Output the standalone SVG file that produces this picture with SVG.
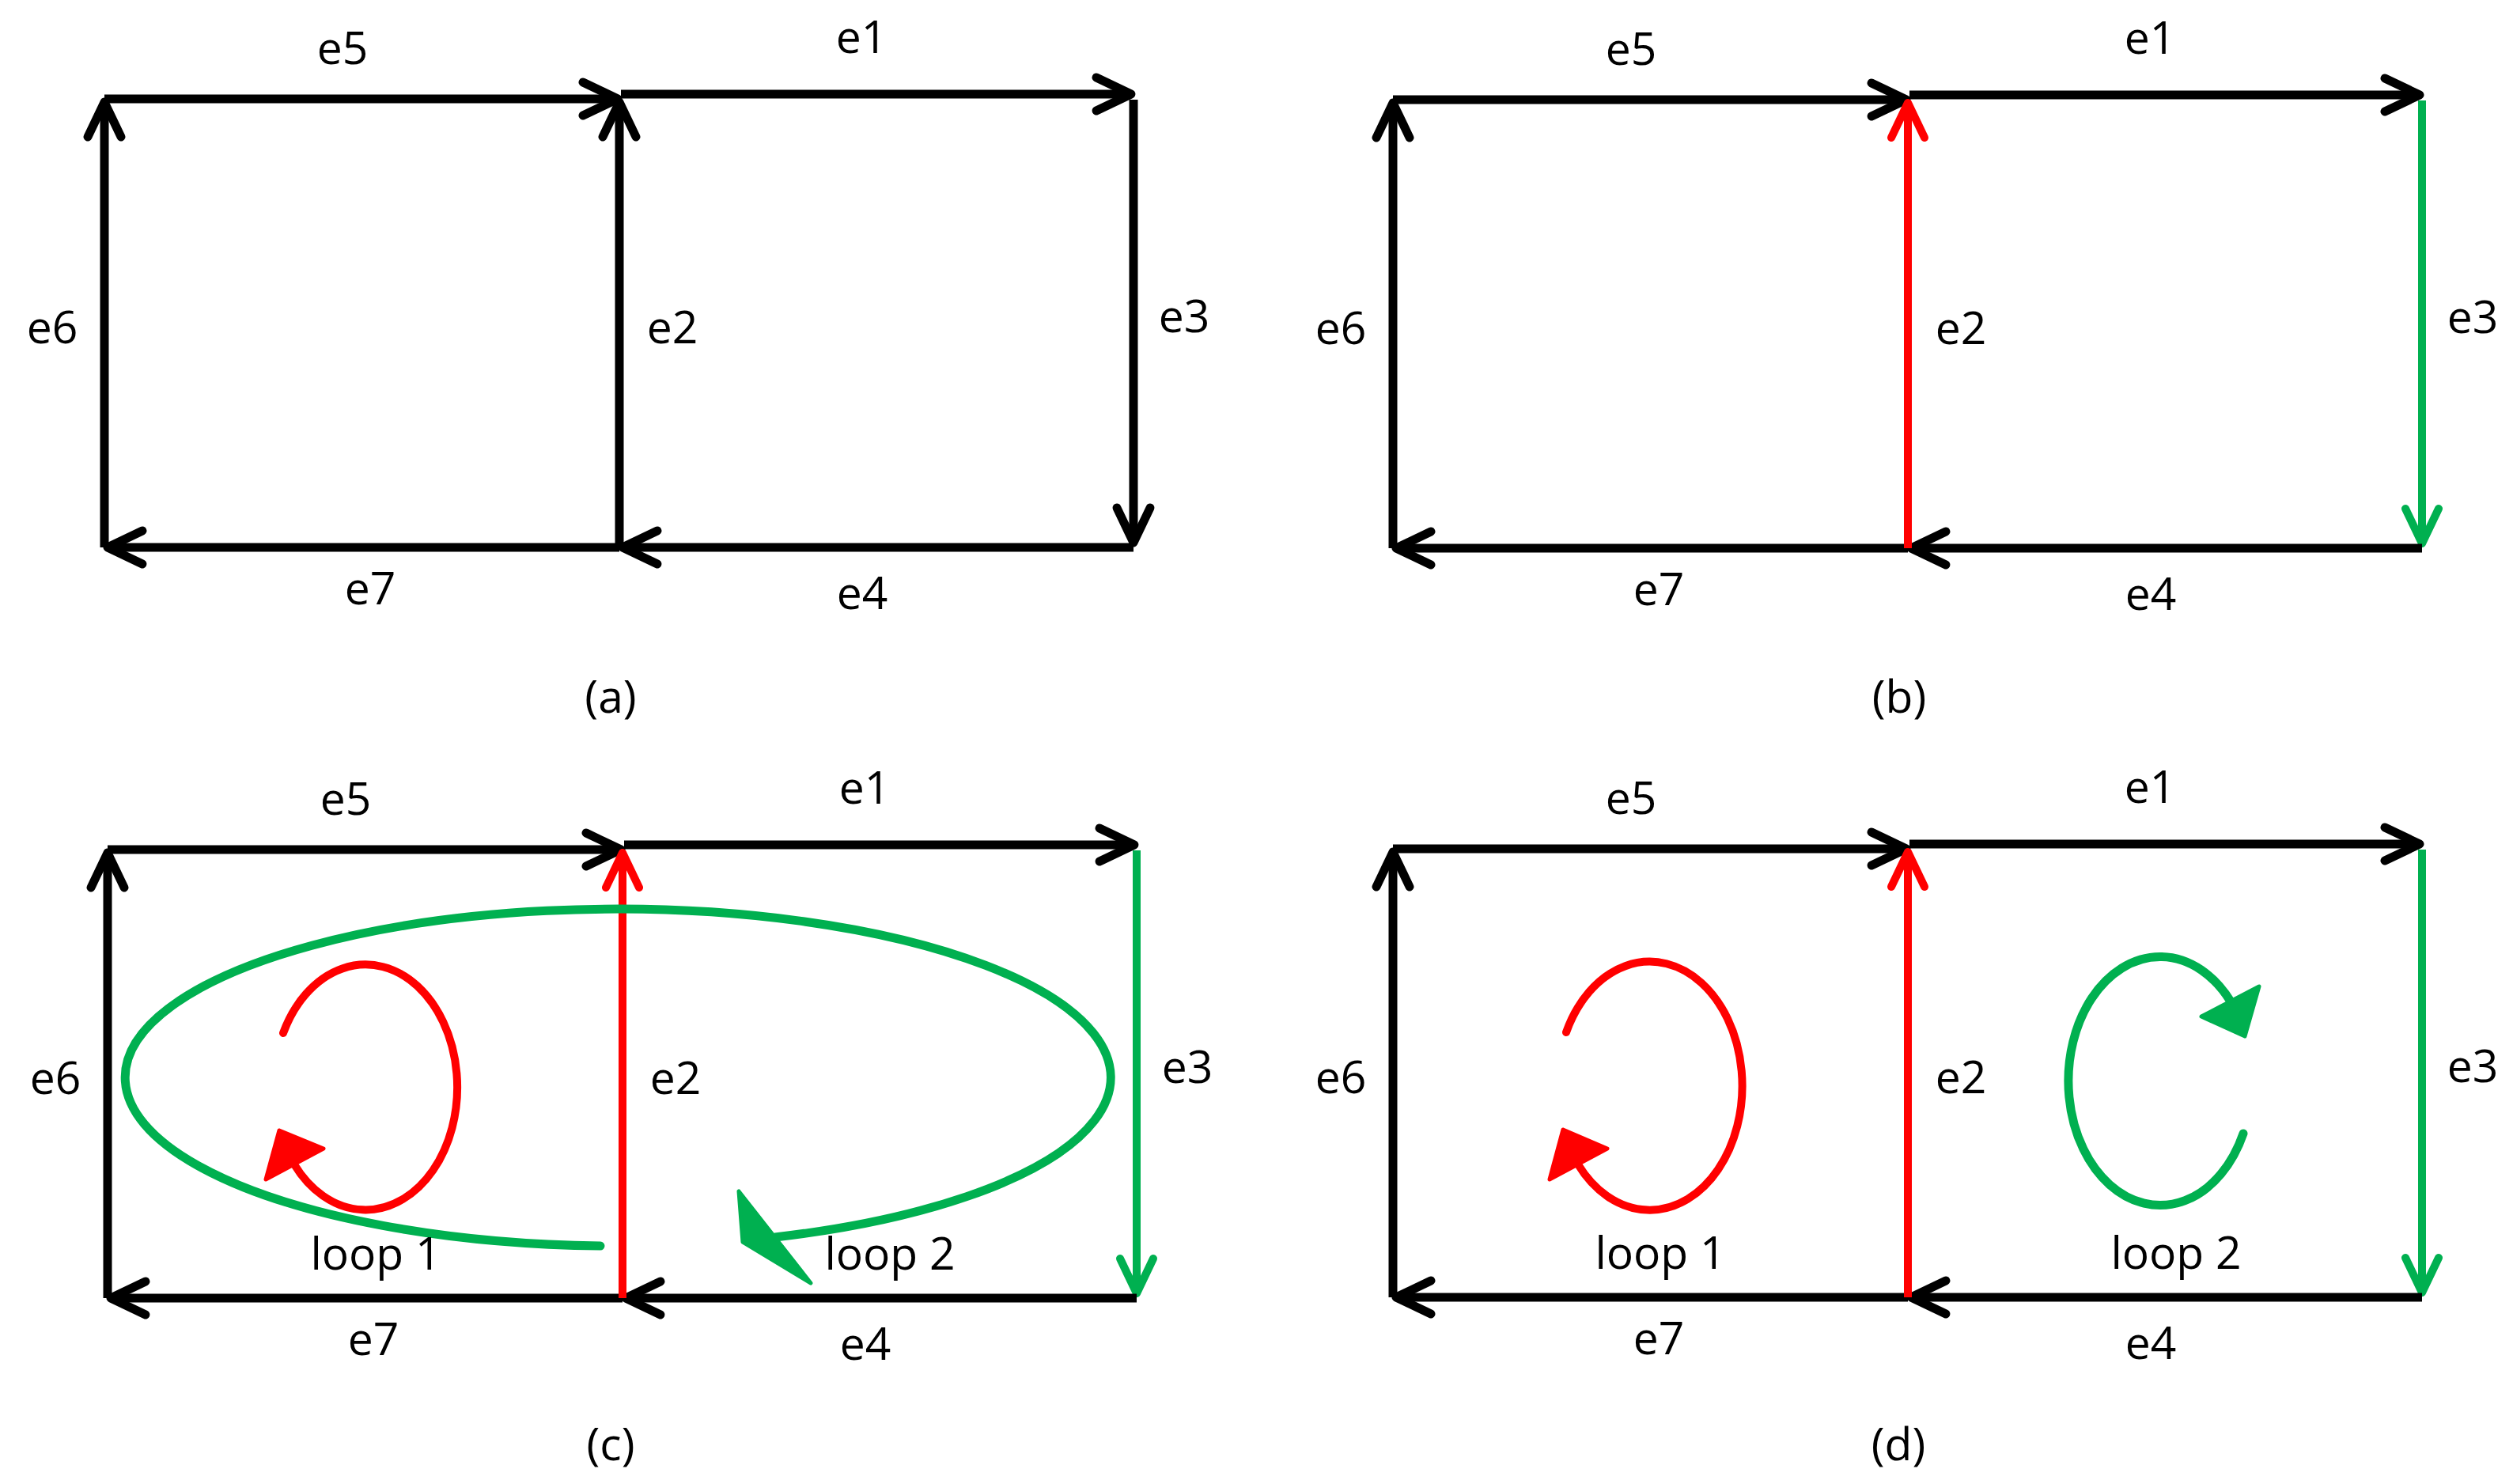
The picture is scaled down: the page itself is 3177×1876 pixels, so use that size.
<svg xmlns="http://www.w3.org/2000/svg" width="3177" height="1876" viewBox="0 0 3177 1876">
<style>
.lbl{font-family:"Open Sans","Lato","Liberation Sans",sans-serif;font-size:57px;fill:#000;text-anchor:middle}
.k{stroke:#000;stroke-width:11;fill:none}
.r{stroke:#FF0000;stroke-width:10;fill:none}
.g{stroke:#00B050;stroke-width:10;fill:none}
.ka{marker-end:url(#ah-k)}
.ra{marker-end:url(#ah-r)}
.ga{marker-end:url(#ah-g)}
.loopr{stroke:#FF0000;stroke-width:10;fill:none;stroke-linecap:round}
.loopg{stroke:#00B050;stroke-width:11;fill:none;stroke-linecap:round}
.headr{fill:#FF0000;stroke:#FF0000;stroke-width:5;stroke-linejoin:round}
.headg{fill:#00B050;stroke:#00B050;stroke-width:5;stroke-linejoin:round}
</style>
<defs>
<marker id="ah-k" markerUnits="userSpaceOnUse" orient="auto" overflow="visible" refX="0" refY="0" markerWidth="1" markerHeight="1">
<path d="M-44,-21 L0,0 L-44,21" fill="none" stroke="#000" stroke-width="11" stroke-linecap="round" stroke-linejoin="round"/>
</marker>
<marker id="ah-r" markerUnits="userSpaceOnUse" orient="auto" overflow="visible" refX="0" refY="0" markerWidth="1" markerHeight="1">
<path d="M-44,-21 L0,0 L-44,21" fill="none" stroke="#FF0000" stroke-width="10" stroke-linecap="round" stroke-linejoin="round"/>
</marker>
<marker id="ah-g" markerUnits="userSpaceOnUse" orient="auto" overflow="visible" refX="0" refY="0" markerWidth="1" markerHeight="1">
<path d="M-44,-21 L0,0 L-44,21" fill="none" stroke="#00B050" stroke-width="10" stroke-linecap="round" stroke-linejoin="round"/>
</marker>
</defs>
<rect width="3177" height="1876" fill="#fff"/>

<!-- Panel (a) -->
<g id="panel-a">
<g id="a-connectors">
<path id="a-e5" class="k ka" d="M132,125 H781"/>
<path id="a-e1" class="k ka" d="M785,119 H1430"/>
<path id="a-e3" class="k ka" d="M1433,126 V686"/>
<path id="a-e4" class="k ka" d="M1433,692 H787"/>
<path id="a-e7" class="k ka" d="M783,692 H136"/>
<path id="a-e6" class="k ka" d="M132,692 V129"/>
<path id="a-e2" class="k ka" d="M783,692 V129"/>
</g>
<g id="a-labels">
<text class="lbl" x="433" y="81">e5</text>
<text class="lbl" x="1089" y="67">e1</text>
<text class="lbl" x="66" y="434">e6</text>
<text class="lbl" x="850" y="434">e2</text>
<text class="lbl" x="1497" y="420">e3</text>
<text class="lbl" x="468" y="764">e7</text>
<text class="lbl" x="1090" y="770">e4</text>
</g>
</g>
<text id="cap-a" class="lbl" x="772" y="901">(a)</text>

<!-- Panel (b) -->
<g id="panel-b" transform="translate(1629,1)">
<g id="b-connectors">
<path id="b-e5" class="k ka" d="M132,125 H781"/>
<path id="b-e1" class="k ka" d="M785,119 H1430"/>
<path id="b-e3" class="g ga" d="M1433,126 V686"/>
<path id="b-e4" class="k ka" d="M1433,692 H787"/>
<path id="b-e7" class="k ka" d="M783,692 H136"/>
<path id="b-e6" class="k ka" d="M132,692 V129"/>
<path id="b-e2" class="r ra" d="M783,692 V129"/>
</g>
<g id="b-labels">
<text class="lbl" x="433" y="81">e5</text>
<text class="lbl" x="1089" y="67">e1</text>
<text class="lbl" x="66" y="434">e6</text>
<text class="lbl" x="850" y="434">e2</text>
<text class="lbl" x="1497" y="420">e3</text>
<text class="lbl" x="468" y="764">e7</text>
<text class="lbl" x="1090" y="770">e4</text>
</g>
</g>
<text id="cap-b" class="lbl" x="2401" y="901">(b)</text>

<!-- Panel (c) -->
<g id="panel-c" transform="translate(4,949)">
<g id="c-connectors">
<path id="c-e5" class="k ka" d="M132,125 H781"/>
<path id="c-e1" class="k ka" d="M785,119 H1430"/>
<path id="c-e3" class="g ga" d="M1433,126 V686"/>
<path id="c-e4" class="k ka" d="M1433,692 H787"/>
<path id="c-e7" class="k ka" d="M783,692 H136"/>
<path id="c-e6" class="k ka" d="M132,692 V129"/>
<path id="c-e2" class="r ra" d="M783,692 V129"/>
</g>
<g id="c-labels">
<text class="lbl" x="433" y="81">e5</text>
<text class="lbl" x="1089" y="67">e1</text>
<text class="lbl" x="66" y="434">e6</text>
<text class="lbl" x="850" y="434">e2</text>
<text class="lbl" x="1497" y="420">e3</text>
<text class="lbl" x="468" y="764">e7</text>
<text class="lbl" x="1090" y="770">e4</text>
</g>
</g>
<g id="c-loop2">
<path class="loopg" d="M759,1575 A623,213 0 1 1 980,1564"/>
<polygon class="headg" points="934,1506 939,1570 1025,1622"/>
<text class="lbl" x="1125" y="1605">loop 2</text>
</g>
<g id="c-loop1">
<path class="loopr" d="M358,1306 A116,155 0 1 1 372,1472"/>
<polygon class="headr" points="353,1429 409,1452 336,1491"/>
<text class="lbl" x="475" y="1605">loop 1</text>
</g>
<text id="cap-c" class="lbl" x="772" y="1846">(c)</text>

<!-- Panel (d) -->
<g id="panel-d" transform="translate(1629,948)">
<g id="d-connectors">
<path id="d-e5" class="k ka" d="M132,125 H781"/>
<path id="d-e1" class="k ka" d="M785,119 H1430"/>
<path id="d-e3" class="g ga" d="M1433,126 V686"/>
<path id="d-e4" class="k ka" d="M1433,692 H787"/>
<path id="d-e7" class="k ka" d="M783,692 H136"/>
<path id="d-e6" class="k ka" d="M132,692 V129"/>
<path id="d-e2" class="r ra" d="M783,692 V129"/>
</g>
<g id="d-labels">
<text class="lbl" x="433" y="81">e5</text>
<text class="lbl" x="1089" y="67">e1</text>
<text class="lbl" x="66" y="434">e6</text>
<text class="lbl" x="850" y="434">e2</text>
<text class="lbl" x="1497" y="420">e3</text>
<text class="lbl" x="468" y="764">e7</text>
<text class="lbl" x="1090" y="770">e4</text>
</g>
</g>
<g id="d-loop1">
<path class="loopr" d="M1980,1305 A117,157 0 1 1 1995,1472"/>
<polygon class="headr" points="1976,1428 2032,1452 1959,1491"/>
<text class="lbl" x="2099" y="1604">loop 1</text>
</g>
<g id="d-loop2">
<path class="loopg" d="M2836,1433 A116,157 0 1 1 2820,1266"/>
<polygon class="headg" points="2783,1285 2856,1247 2838,1310"/>
<text class="lbl" x="2751" y="1604">loop 2</text>
</g>
<text id="cap-d" class="lbl" x="2400" y="1846">(d)</text>
</svg>
